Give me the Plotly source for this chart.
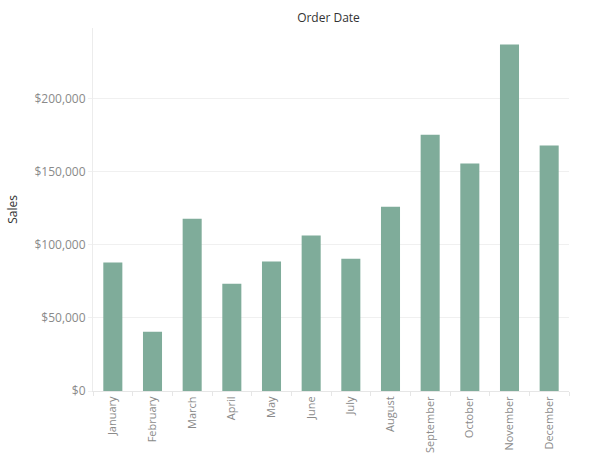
import plotly.graph_objects as go

months = ["January", "February", "March", "April", "May", "June", "July",
          "August", "September", "October", "November", "December"]
sales = [87900, 40600, 118000, 73500, 88600, 106400, 90600,
         126200, 175500, 155700, 237200, 168000]

fig = go.Figure(go.Bar(x=months, y=sales, marker_color="#7FAC9A", marker_line_width=0))

fig.update_layout(
    width=600, height=470,
    margin=dict(l=88, r=31, t=28, b=79),
    paper_bgcolor="white", plot_bgcolor="white",
    bargap=0.52,
    showlegend=False,
    font=dict(family="Open Sans", size=11, color="#8a8a8a"),
    title=dict(text="Order Date", x=(88 + 569) / 2 / 600, xanchor="center",
               y=1 - 18 / 470, yanchor="middle",
               font=dict(family="Open Sans", size=12, color="#333333")),
)
fig.update_xaxes(
    showgrid=False, showline=True, linecolor="#e6e6e6", linewidth=1,
    ticks="outside", tickson="boundaries", ticklen=4, tickcolor="#e6e6e6",
    tickangle=-90, tickfont=dict(size=11, color="#8a8a8a"),
)
fig.update_yaxes(
    range=[0, 248500], dtick=50000, tickprefix="$", tickformat=",",
    showgrid=True, gridcolor="#f0f0f0", gridwidth=1,
    zeroline=False, showline=True, linecolor="#ececec", linewidth=1,
    ticks="outside", ticklen=4, tickcolor="#f0f0f0",
    tickfont=dict(size=12, color="#8a8a8a"),
    title=dict(text="Sales", font=dict(size=12, color="#333333"), standoff=14),
)

fig.write_html("out.html")
